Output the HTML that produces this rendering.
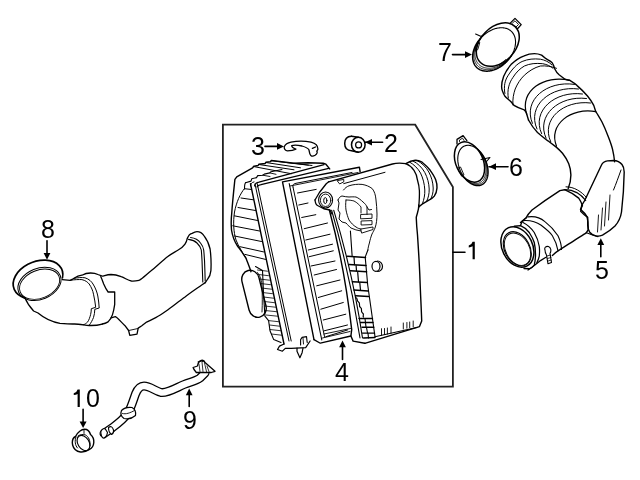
<!DOCTYPE html>
<html><head><meta charset="utf-8">
<style>
html,body{margin:0;padding:0;background:#fff;width:640px;height:480px;overflow:hidden}
.l{position:absolute;will-change:transform;font-family:"Liberation Sans",sans-serif;font-size:25px;line-height:25px;color:#000}
svg{position:absolute;left:0;top:0}
</style></head><body>
<svg width="640" height="480" viewBox="0 0 640 480">
<g fill="none" stroke="#000" stroke-linejoin="round" stroke-linecap="round">
<!-- frame box -->
<path d="M222.9,124.7 H415.2 L452.9,187 V386.6 H222.9 Z" stroke-width="1.8" stroke="#222" stroke-linejoin="miter"/>
<!-- tick for 1 -->
<path d="M452.9,252.3 H465" stroke-width="1.5"/>
<!-- arrows -->
<g stroke-width="1.6">
<path d="M265,146.4 H279"/>
<path d="M365,142.3 H382.6"/>
<path d="M452.5,54.6 H467"/>
<path d="M489,166.7 H508"/>
<path d="M600.8,243 V256.7"/>
<path d="M47,240.8 V254"/>
<path d="M189.2,393.8 V406.5"/>
<path d="M342.5,346 V359.4"/>
<path d="M83.1,409.4 V422"/>
</g>
</g>
<g fill="#000" stroke="none">
<path d="M284,146.4 L277,143 L277,149.8 Z"/>
<path d="M365,142.3 L372,139 L372,145.6 Z"/>
<path d="M472,54.6 L465,51.2 L465,58 Z"/>
<path d="M489,166.7 L496,163.3 L496,170.1 Z"/>
<path d="M600.8,238.3 L597.4,245 L604.2,245 Z"/>
<path d="M47,259.8 L43.6,253 L50.4,253 Z"/>
<path d="M189.2,388.6 L185.8,395.3 L192.6,395.3 Z"/>
<path d="M342.5,340.6 L339.1,347.3 L345.9,347.3 Z"/>
<path d="M83.1,428.1 L79.6,421.4 L86.6,421.4 Z"/>
<!-- digit 1 (label 1) -->
<path d="M472.6,241.7 H474.8 V259.2 H472.6 V246.3 Q471,247.2 468.75,247.4 V245.6 Q471.6,245 472.6,241.7 Z"/>
<!-- digit 1 (label 10) -->
<path d="M77.6,389.4 H79.8 V406.9 H77.6 V394 Q76,394.9 73.75,395.1 V393.3 Q76.6,392.7 77.6,389.4 Z"/>
</g>
<!-- PARTS -->
<g id="parts" fill="none" stroke="#000" stroke-width="1.3" stroke-linejoin="round" stroke-linecap="round">
<!-- part 3 clip -->
<path d="M284.2,146.7 C285.5,144 288,142.9 291,142.2 C297,141 305,141 311,142.2 C315,143.2 317.9,146 317.9,149.1 C317.9,150.2 316.8,150.8 316.8,151.2 C317.5,152 317.5,153.5 315.1,155.3 C313.5,156.3 312,156.6 310.8,155.5 C309.2,154 309.5,151.5 308.9,149.8 C308,148 305.5,147 302,146 C298,145.2 293.5,145 291.7,145.7 C291.5,147 293.5,148.2 295.9,149.1 C293.8,150.3 290.5,150.8 287.5,150.8 C285.5,150.6 284.2,149 284.2,146.7 Z"/>
<path d="M312.4,148.4 L315.5,147"/>
<!-- part 2 grommet -->
<path d="M351.5,136.3 C347,136.5 344.7,139.5 344.7,143.5 C344.7,147.5 347,150.5 351.5,150.7 L358.3,152.2" stroke-width="1.5"/>
<path d="M351.5,136.3 L358.3,137.2" stroke-width="1.5"/>
<ellipse cx="358.3" cy="144.7" rx="6.8" ry="7.5" stroke-width="1.5"/>
<circle cx="358.6" cy="144.9" r="3" stroke-width="1.2"/>
<!-- AIR BOX -->
<g>
<!-- lower housing outer contour -->
<path d="M251,271.7 C250,268.5 248,263.5 246.2,258.7 C243.5,254 240,249.5 237.5,246 C234.5,241.5 232.5,236.5 231.5,230 C231,224 231.2,218 231.75,213 C232.5,202 233.8,190 234.9,179.4 L236.75,176.9 L252.6,167.8 L253.8,166.25 L258.1,165.5 L258.8,164.3 L265.1,163.5 L265.9,162.3 L270.6,161.6 L271.3,160.4 L294,163.25 L308.1,162.8 L323.1,163.25 L325.9,164.2 L329.7,168.9" stroke-width="1.4"/>
<!-- top fins -->
<path d="M253.8,166.6 L291.3,173.7 M258.8,164.5 L294,169.8 M265.9,162.5 L300.5,167.8 M271.3,160.8 L308.4,165.2 M294,163.25 L312,165.5" stroke-width="1"/>
<path d="M245.6,182.7 L251,181.1 L251.8,178.75 L256.5,177.6 L257.7,175.6 L262.75,175.2 L264.3,174.1 L269.8,172.9 L271,171.7 L282,169.5" stroke-width="1.1"/>
<path d="M262.75,175.2 L270,176.5 M269.8,172.9 L276,174.3" stroke-width="0.9"/>
<!-- lower housing flange top edges -->
<path d="M254.5,186 C255,183.8 256.5,182.6 259,182.2 L324,164.65" stroke-width="1.2"/>
<path d="M257,187 C257.5,185.6 259,184.9 261,184.6 L328.7,168.4" stroke-width="1.2"/>
<path d="M244.5,189 C244.5,185.5 244.8,183.6 245.6,182.7" stroke-width="1.1"/>
<path d="M250.5,186 C250.5,184 251.5,182.5 254,181.9" stroke-width="1"/>
<!-- flange long lines -->
<path d="M250.5,183.75 L284,344" stroke-width="1.4"/>
<path d="M255,184 L289,341" stroke-width="1"/>
<path d="M257.2,183.6 L291.2,341" stroke-width="1"/>
<!-- rib panel inner contour -->
<path d="M244.5,188.5 C240,194 236.5,202 234.5,212 C233,222 233.5,232 236,240 C238.5,246 242,252 246,258" stroke-width="1"/>
<!-- ribs -->
<path d="M245,188.75 L251.5,189.5 M241,198 L253.3,199.8 M238,207.5 L255.5,210.5 M234.3,215.8 L257.5,220.5 M232.7,225.8 L259.5,231 M234.5,236 L261.5,241.5 M240,246.7 L263.6,251.9 M245,254.4 L265.5,259.4" stroke-width="1"/>
<!-- oval bulge -->
<rect x="-8.7" y="-24" width="17.4" height="48" rx="8.7" ry="9.5" transform="translate(254,293.8) rotate(-14)" stroke-width="1.4"/>
<path d="M257.5,272.5 C260.5,276 261.8,281 262,287 C262.3,295 262.5,303 262,312" stroke-width="0.9"/>
<!-- fin strip -->
<path d="M257.5,270 L267.5,271.2 M258.5,274.5 L268.5,275.7 M259.5,279 L269.5,280.2 M260.5,283.5 L270.5,284.7 M261.5,288 L271.5,289.2 M262.5,292.5 L272.5,293.7 M263.5,297 L273.5,298.2 M264.3,301.5 L274.5,302.7 M264.6,306 L275.5,307.2 M265,310.5 L276.5,311.7 M266,315 L277.5,316.2 M268.6,320.6 L278.5,321.7 M269.5,325 L279.5,326.2 M270,329.5 L280.5,330.7 M271.5,334 L281.5,335.2" stroke-width="0.8"/>
<path d="M255.5,266.5 L262.5,270.5 L263.5,292.9 L264.9,316.2 L268.6,320.6 L270,330.8 L273.7,339.6 L281,342.5" stroke-width="1.1"/>
<!-- feet of lower housing -->
<path d="M284,344 L279.5,346.1 L277.5,349.5 L282.4,351.2 L285.3,348.3 L291.2,348.3 L305.7,347.6 L310.1,341" stroke-width="1.2"/>
<path d="M297,348 L297,351.2 L299.9,357.8 L302.1,352.7 L303,348" stroke-width="1.2"/>
<path d="M300.6,345 L300.6,339.6 L302.1,337.4 L306.5,336.6 L307.2,342.5" stroke-width="1.1"/>
<path d="M303,338 L303.5,344" stroke-width="0.9"/>
<!-- FILTER (part 4) -->
<path d="M282.5,181.9 L357.5,167 L360.1,171.6 L329.4,210.2 Q344.45,266.05 351.7,329.7 L350.9,336 L320.3,343.2 L314,339.6 Z" fill="#fff" stroke="none"/>
<path d="M314,339.6 L282.5,181.9 L359.4,167.2 L360.1,171.6" stroke-width="1.4"/>
<path d="M289.2,183.5 L321.8,340" stroke-width="1.1"/>
<path d="M293,187 C292.5,185 293,184 296,183.3 L352,172.5" stroke-width="1"/>
<path d="M293,187 L324.5,336.5" stroke-width="1"/>
<path d="M290,186 L358,172.5" stroke-width="0.9"/>
<path d="M314,339.6 L320.3,343.2 L350.9,336" stroke-width="1.3"/>
<path d="M322.5,338 L350,331.5 M324,334 L350.5,328.5" stroke-width="0.9"/>
<!-- filter right edge lines -->
<path d="M329.4,210.2 Q344.45,266.05 351.7,329.7 L350.9,336 L353.1,341.1 L364.8,343.3" stroke-width="1.4"/>
<path d="M331.6,210.2 Q349.8,273.9 360,338" stroke-width="1.1"/>
<path d="M333.7,210.2 Q353.1,273.9 362.5,338" stroke-width="1.1"/>
<!-- pleat lines -->
<path d="M297.5,193.0 L316.2,189.4 M298.8,205.0 L308.0,203.0 M301.7,217.5 L315.8,214.7 M304.2,228.7 L327.5,223.0 M305.8,240.0 L330.0,234.2 M308.3,250.0 L332.5,244.2 M309.2,256.7 L333.3,250.8 M311.0,266.0 L335.0,261.0 M314.2,275.0 L336.5,269.5 M316.7,285.8 L340.0,280.0 M318.3,297.5 L341.7,290.8 M320.8,309.2 L343.3,302.5 M323.3,320.0 L345.8,314.2 M324.2,330.8 L347.5,325.0 M325.8,336.7 L347.5,330.0" stroke-width="1"/>
<!-- UPPER HOUSING -->
<path d="M328.7,181.8 L392.5,164 C396,163 400,162.8 405.8,163.6" stroke-width="1.3"/>
<path d="M343.75,183.6 L385,172.3" stroke-width="1"/>
<!-- snout -->
<path d="M405.8,163.6 C408.5,162 412,160.5 415.3,160.2 C417.5,160.2 420,161 422.1,162.2 C425,164.5 428,167.5 430.2,170.3 C432.5,173.5 434.5,176.5 435.7,179.8 C436.7,182.5 437.1,185 437,187.9 C436.8,191 435.8,194 434.3,196.1 C432.8,198 431,199.2 428.9,200.1 C426.5,201.5 424,203 422.1,204.2 L418.7,206.9" stroke-width="1.4"/>
<path d="M405.8,163.6 C409.5,165 412,167.5 414,170.3 C415.8,173 417,176.5 417.4,179.8 C418.5,183.5 419.2,187 419.4,190.7 C419.6,196 419.2,201.5 418.75,206.9" stroke-width="1.3"/>
<path d="M409.5,162 C414,164.5 418,168.5 420.5,173 C423,178 424.5,184 424.8,190 C425,195 424,199.5 422.5,203.5" stroke-width="1"/>
<path d="M413,161 C418,163.5 422,167.5 424.8,172.5 C427.5,177.5 429,183.5 429.2,189 C429.3,194 428.3,198 426.5,201.5" stroke-width="1"/>
<path d="M417,160.5 C422,163 426,167 428.8,172 C431.5,177 433,182.5 433.2,188 C433.3,192.5 432.3,196 430.5,199.5" stroke-width="1"/>
<path d="M418.75,205 C419,210 417,213.5 416.25,217.5 C416.5,225 417,230 417.5,235 C418.5,250 419.5,265 420,280 C420.5,295 421.3,308 421.7,321 L419.5,326.6 L364.8,343.3" stroke-width="1.4"/>
<!-- inner bottom line -->
<path d="M375,336.7 L416.7,327.5" stroke-width="1.1"/>
<path d="M381.5,328.7 L381.5,335.3 M384.5,328.5 L384.5,334.6 M387.4,328 L387.4,334 M391,327 L391,333.2 M403.3,323 L403.3,329 M406.9,322.5 L406.9,328.2 M409.7,322 L409.7,327.6 M413.2,321 L413.2,326.8" stroke-width="0.9"/>
<!-- body left edge / taper -->
<path d="M367.9,250 L365.2,257.1 L367.7,285 L375,336.7" stroke-width="1.1"/>
<path d="M350.4,231 L352.1,255.6" stroke-width="1.1"/>
<!-- ear of upper housing -->
<path d="M315,200 L319.4,192.5 L326.25,183.75 L328.7,181.8" stroke-width="1.3"/>
<path d="M315,200 C315.3,203 316.5,205 317.5,205.5 L323.75,208.75 L330,210 L332,214" stroke-width="1.3"/>
<ellipse cx="325.6" cy="200" rx="7" ry="8" stroke-width="1.1"/>
<ellipse cx="325.6" cy="200.3" rx="5.2" ry="6.2" stroke-width="0.9"/>
<ellipse cx="325.3" cy="200.6" rx="1.6" ry="3" stroke-width="1"/>
<path d="M337.5,180.6 L343.75,179.4 L343.75,181.9 L340,183.75 Z" stroke-width="0.9"/>
<!-- rib cells on flange -->
<path d="M347.5,256.25 L365.5,257.5 M349,264.6 L366,265.5 M350.5,270.8 L366.6,271.8 M352.5,281.8 L367.3,282.5 M354,290.1 L368,291 M355.5,295.8 L368.5,296.5" stroke-width="1.5"/>
<path d="M354,257 L354.5,264.6 M356.1,265.6 L356.5,270.8 M357.7,272.4 L358.5,281.8 M359.8,282.8 L360.5,290.1" stroke-width="1.2"/>
<path d="M359,318.5 L372.5,318.5 M360.5,322.5 L373,322.5 M362,327.3 L373.8,327.3 M362.5,333.1 L374.5,333.1 M363.5,338 L375,337.5" stroke-width="1.4"/>
<path d="M365,318.5 L366,327 M366.5,327.5 L367.5,333 M368,333.3 L368.5,338" stroke-width="1.1"/>
<path d="M355.5,297.5 C358.5,298 356,300.5 358.5,302 C361,303.5 358,306 360.5,307.5 C363,309 360,311.5 362.5,313 C365,314.5 362,316 363.5,317" stroke-width="1.2"/>
<!-- MAF port -->
<path d="M343.5,190 C345,188 347,186.5 349,185.8 C353,184.5 357.5,184 362.1,184.4 C366,185 369.5,186.5 372.3,188.7 C374.5,191.5 375.5,195 375.9,199 C376.5,204 376.9,209 377,214 C377,219 376.5,224 375,228 C374,230.5 373,232 372,234 C371,236.5 370,240 369.4,243 C368.5,246 368,248 367.9,250" stroke-width="0.95"/>
<path d="M338,200 C339,197.5 340.5,196.3 342,196 C344.5,196.5 347,197 349,197 C352,196.8 354,196.8 356,197 C358.5,198 361,200 363,202 C365,203.5 366.5,205.5 367,207 L369,210 L371.5,209.5" stroke-width="0.95"/>
<path d="M338,200 L339,203 L338,210 L340,213 L339,219 L342,222 L346,223 C348,225 349.5,227 351,228 C354,229.5 357.5,230.5 361,231" stroke-width="0.95"/>
<path d="M346,200 C345.5,204 345.6,207 346,210 C346.8,214 347.8,217 349,220 C351,223 353.5,225.5 356,227 C358,228.3 359.5,229 361,229" stroke-width="0.95"/>
<path d="M346,200 C349,200 351.5,200.3 354,201 C357,202.5 359.5,205 361,207 L361,213" stroke-width="0.9"/>
<path d="M361,214.5 L372,214 L372,218.3 L361,218.8 Z M361.5,221 L372,220.6 L372,224.6 L361.5,225 Z" stroke-width="0.9"/>
<path d="M367,207 L367,214.5" stroke-width="0.9"/>
<path d="M361,229 L373,227 L373,229.5 L362,233 Z" stroke-width="0.9"/>
<path d="M377.5,261 C380,261 382.5,263.5 382.5,266.5 C382.5,269.5 380,271.5 377.5,271.5" stroke-width="1.2"/><ellipse cx="376" cy="266.3" rx="4" ry="5" stroke-width="1.2"/>

</g>
<!-- part 10 clamp -->
<g>
<path d="M72.3,442.7 C72.3,439.5 73.5,437.5 75.5,436.5 C76.5,434.5 78,432.5 80,431 C81.5,429.8 83,429.3 84.5,429.3 C87,429.3 89.5,431 90.5,434.5 C93,436.5 94,439.5 93.8,442.5 C93.5,446 92,448.2 89.5,449.5 C86.5,451.5 83.5,452.3 80.5,452 C76.5,451.5 73.5,448.5 72.6,445 Z" stroke-width="1.4"/>
<ellipse cx="0" cy="0" rx="8.2" ry="5.6" transform="translate(83.5,443) rotate(58)" stroke-width="1.2"/>
<path d="M76,437 C74.5,440.5 75,445.5 77.5,448" stroke-width="1"/>
<path d="M78,436 C80,434.5 83,434 85.5,435 C88.5,436.5 90.5,440.5 90,446" stroke-width="1"/>
<path d="M84,430 L84,433.5" stroke-width="0.9"/>
</g>
<!-- part 9 hose -->
<g>
<path d="M104,433.5 L112,428 C118,423.5 124,419 128,413 C131,408 133,401 135.5,394 C137.5,389 140,386 144,386 C150,386 155,391 161,392.5 C167,393.5 176,388 184,384.5 C190,382 196,381 200,378 L205,373" stroke-width="9" stroke="#000"/>
<path d="M104,433.5 L112,428 C118,423.5 124,419 128,413 C131,408 133,401 135.5,394 C137.5,389 140,386 144,386 C150,386 155,391 161,392.5 C167,393.5 176,388 184,384.5 C190,382 196,381 200,378 L205,373" stroke-width="6.4" stroke="#fff"/>
<path d="M100.8,433 C100.5,430.5 102.5,428.5 105,428.5 L107.5,432.5 C107,436 105,438.5 103,438 C101.5,437 101,435 100.8,433 Z" fill="#fff" stroke-width="1.2"/>
<path d="M108.5,427.5 C111,425.5 112.5,427 113.5,430 C114,432.5 113.5,433.5 111.5,434.5 C109.5,433 108.5,430 108.5,427.5 Z" fill="#fff" stroke-width="1.1"/>
<path d="M121.5,410.5 C124,408 128,407 132,407.5 C135,409 136,412 135.5,415.5 C132,418.5 127.5,419.5 124,418.5 C121,416.5 120.5,413 121.5,410.5 Z" fill="#fff" stroke-width="1.2"/>
<path d="M122.5,413.5 C126,414.5 130,413 134.5,410.5" stroke-width="0.9"/>
<path d="M193.1,367.5 L197.5,366 C198,363 199.5,361 201.3,360.4 C203,360 204.5,361 205,362.5 L215,371.3 L211.3,372.5 L196.3,372.5 C195,371 193.5,369 193.1,367.5 Z" fill="#fff" stroke-width="1.3"/>
<path d="M199,364 L200,371.5 M202,362 L203,371.5 M204.5,363 L206.5,371.5 M207,366 L209,371.5" stroke-width="0.8"/>
<path d="M198,361.8 C200,361 203,361 204.8,362" stroke-width="1"/>
</g>
<!-- part 8 duct -->
<g>
<path d="M62.2,279.6 L70.2,280.3 L73.1,278.8 C76,277 79,275.5 81.9,275.2 C85,273.5 88,273 90.6,273 C93.5,273 96,273.5 97.9,274.5 L102.3,276.2 C105,275.5 108,274.5 111,274.5 C115,274.6 118,275.5 121.2,276.7 C125,278 128,280.5 131.4,281 C135,281.3 138,280.5 139.4,280.2 C143,278 147,274 151.4,270.6 C157,266 163,260 168.2,256.2 C172,253.5 175,252 177.8,250.2 C181,248.5 183.5,246.5 185,244.2 C186.5,242 187,240 187.4,238.2"/>
<path d="M187.4,238.2 C188.5,235.5 190,233.8 192.1,233.4 C194,232.3 195.5,231.7 197,231.7 C200,231.7 202.5,233.5 204.1,235.8 C207,239.5 209,244 210.1,249 C211,256 211.3,264 210.9,270.6 C210.5,274.5 209,277.5 207.7,279 L205.3,282.6"/>
<path d="M188.5,239.4 C192,239.8 195,241 197,243 C199.5,245.5 201,248 201.3,250 C201.8,256 202.2,262 202.3,268 L202.8,282" stroke-width="1.1"/>
<path d="M190.5,237.5 C195,238 198.5,240 200.5,243 C202.5,245.5 203.5,248 203.7,250 C204.3,256 204.7,262 204.8,268 L205.2,281" stroke-width="1.1"/>
<path d="M205.3,282.6 L201.7,285 C196,289 190,293 185,297 C178,302 172,307 165.8,311.3 C162,314 159,316 156.2,317.3 C152,319.5 149,321 146.6,322.1 L141.8,325.7 L138.2,328.1 L137,334.1 L129.8,335.3 L128.6,330.5 L125,325.7 C121,322 118,318 115.4,316.7 L111,317.8"/>
<path d="M102.3,324 C96,325.8 93,325.5 89.2,325.5 C84,325 79,324 74.6,324 C70,324 64,323.5 60,323.3 C52,322 44,318 38,313 L33.6,311 C30,307 27,303 24.9,297.7"/>
<path d="M128.8,330.5 L138,328.5" stroke-width="0.9"/>
<path d="M70.2,280.3 C75,279.5 79,279.5 81.9,279.6 C85.5,280.5 87.5,282 89.2,284 C91.5,287.5 92.8,290.5 93.5,294.2 C94.5,299 95.3,303 95.7,307.3 L91.3,308.7 C91.3,311 91,313 90.6,314.6 C89.8,317.5 89,320 87.7,321.9 C86,323.5 85,324.3 83.3,324.8" stroke-width="1"/>
<path d="M73.5,278.5 C78,277.5 82,277.3 85,277.8 C89,279 91.5,281.5 93,284 C95.5,288 97,292 97.8,296 C98.5,300 99,304 99.2,308 L94.8,309.3 C94.8,312 94.3,315 93.5,317.5 C92.5,320 91,323 89.2,325.3" stroke-width="1"/>
<path d="M100.8,276.7 C102,279 102.8,281.5 103.7,284 C105,287 106.5,290 108.1,292 L114.7,292 L114.7,304.4 C114.2,308 113.5,311.5 112.5,314.6 C111.5,317.5 110,320 108.1,321.9 C106,323.2 104,323.8 102.3,324" />
<path d="M24.9,297.7 A25.8,17.9 -22 1 1 62.46,277.9" stroke-width="1.7"/>
<ellipse cx="0" cy="0" rx="22.4" ry="15.5" transform="translate(39.45,283.85) rotate(-22)" stroke-width="1"/>
<ellipse cx="0" cy="0" rx="20.9" ry="14" transform="translate(39.6,284.2) rotate(-22)" stroke-width="0.9"/>
</g>
<!-- part 5 duct -->
<g>
<!-- cuff outer -->
<path d="M528.5,120 L526.3,112.7 C525.5,111 524.5,110 524.2,109.8 C520,108.5 516.5,107 514,105.4 L511,101.7 C508.5,99.5 506.5,98 505.2,96.6 C503,93 501.6,89.5 501.6,86.4 C501.6,83 502.5,79.5 503.7,76.2 C505.5,72 508,68 511,64.6 C515,60.5 519.5,57.5 524.2,55.8 C527.5,54.3 531,53.6 534.4,53.6 C537,53.6 539.5,54.2 541.6,55.1 L546,58.7 C548,59.8 550.5,61 551.9,62.4 C553.5,64.5 554.2,67 554.8,69 C556,71.5 557.5,73.5 559.1,74.8 L565,79.2 C566.5,79.7 568,80 569.8,80.4" stroke-width="1.4"/>
<path d="M504.9,93.5 C503.5,86 505,80 508.3,75.2 C512,69.5 516.5,64 522.1,61.5 C528,59 534,58.5 540.4,59.2 C545,60 549,62 551.9,64.9" stroke-width="1"/>
<path d="M508.3,98.1 C507,90 509,83 512.9,77.5 C516,72.5 520,68.5 524.4,66 C530,63.5 536,63 542.7,63.7 C547,64.5 550.5,66 553,68.3" stroke-width="1"/>
<path d="M512.9,105 C512.5,99 513.5,94 515.2,89 C517.5,83.5 520.5,79 524.4,75.2 C529,71 534.5,67.5 540.4,66 C546,65.5 551.5,66.5 556.5,68.3" stroke-width="1"/>
<path d="M526.7,114.2 C519.0,91.0 544.1,74.2 569.8,80.4" stroke-width="1.2"/>
<path d="M532.4,123.3 C522.4,99.8 547.2,80.2 574.5,84.4" stroke-width="1.0"/>
<path d="M537.0,129.0 C526.4,105.6 550.9,85.3 578.5,89.0" stroke-width="1.0"/>
<path d="M541.6,133.6 C531.1,110.5 555.3,90.4 582.5,94.0" stroke-width="1.0"/>
<path d="M546.1,138.2 C535.5,115.3 559.4,95.1 586.5,98.5" stroke-width="1.0"/>
<path d="M550.7,141.7 C540.4,119.2 563.9,99.6 590.5,103.0" stroke-width="1.0"/>
<path d="M556.5,146.2 C547.9,124.5 571.0,107.2 595.8,111.7" stroke-width="1.2"/>
<!-- upper right contour -->
<path d="M569.8,80.4 C572.5,82 575,83.5 577.1,85.6 C580.5,88.5 584,92 587.5,96 C590,99 592,102 593.75,105.4 L595.8,111.7 C598,115 600,118.5 602,122 C604.5,127 606.5,132 608.3,136.7 C610,141 611.5,145 612.5,149.2 C613.5,153.5 614.2,157.5 614.6,161.7" stroke-width="1.4"/>
<!-- lower left contour -->
<path d="M528.5,120 C531,124.5 534,129 537.5,132.5 C541,135.5 544.5,138.5 547.9,140.8 L556.25,147.1 C558.5,149 560.5,151 562.5,153.3 C565,156.5 567.3,160 568.75,163.75 C570.2,167.5 570.9,171 570.9,175 C570.9,180 570,184 568.2,188.6" stroke-width="1.4"/>
<!-- resonator box -->
<path d="M584.7,200.5 L601.5,165 C602.5,162.8 604.5,161.3 607.5,160.9 L613.5,160.5 C617,160.6 620,162 622,164.5 C623.6,166.5 624.2,169 624.2,172 C624,185 623,199 621.5,212 C620.7,217.5 618.5,222 615,226 C611.5,229.5 607,232.5 602.5,235.1 C600.5,236 598.5,236.3 596.6,236.1 C593.5,235.5 591,234 589.7,232.2 C588.5,230 587.8,227.5 587.7,225.2 C587.7,222.5 587.7,219.5 587.7,217.3 C585,215.5 582.5,213.5 580.7,211.4 L581.7,205.4 L584.7,200.5" stroke-width="1.4"/>
<path d="M621,170 C618.5,177 616,184 613.5,190" stroke-width="1"/>
<path d="M598.5,215 L597.5,232 M602.5,208 L601,230 M606,202 L604.5,226 M610,195 L608.5,220" stroke-width="0.9"/>
<path d="M564.9,189.6 C569,189.5 573,190.5 576.8,192.6 C580,194.5 583,197 585.7,200.5" stroke-width="1.2"/>
<path d="M566,186.8 C570,186.8 574,188 577.5,190 C581,192 584,194.5 586.5,197.5" stroke-width="1"/>
<!-- main cylinder -->
<path d="M564.6,189.7 L559.9,190.6 C550,197 540,204 532,210 C529.5,212.5 527.5,215 526.1,217.8 L520.5,222.5" stroke-width="1.4"/>
<path d="M564.6,189.7 C570,192 575,195 578.7,198.1 C580.5,200.5 581.5,203 582.4,205.6 L580.5,209.4 C583,211.5 585.5,214 587.1,216.9 C588,221 588.3,226 588.1,230 L586.2,232.8 C583,235 578,238 573,241.3 C568,244.5 564,247 559.9,249.7 C557,251.5 554.5,253.5 552.4,255.4" stroke-width="1.4"/>
<path d="M586.2,232.8 C590,234 594,235.5 598,236.6" stroke-width="1.2"/>
<!-- coupling band -->
<path d="M522.4,220.6 C529,220 536,221.5 541.2,225.3 C546,229 550,232 552.4,235.7 C555,240 557,245 558,250.7" stroke-width="1.1"/>
<path d="M528,216.9 C534,216 540,217.5 544.9,221.6 C550,225.5 554,229.5 558,235.7 C560,240 561.5,245 561.5,249.5" stroke-width="1.1"/>
<!-- inlet lip -->
<ellipse cx="0" cy="0" rx="21.2" ry="15.2" transform="translate(517.4,247) rotate(64)" stroke-width="1.5"/>
<ellipse cx="0" cy="0" rx="18.2" ry="12.6" transform="translate(517.3,248.8) rotate(62)" stroke-width="1.1"/>
<ellipse cx="0" cy="0" rx="17.2" ry="11.8" transform="translate(517.5,249.2) rotate(62)" stroke-width="0.9"/>
<path d="M514.25,226.25 L520.5,225.6 C524,227 527,229.5 529.25,232.5 C531.5,236 533.2,239 534.25,242.5 C535.3,247 535.6,251.5 535.5,256.25 C535.3,259.5 535,262.5 534.25,265 C533,266.8 531.5,268 529.25,268.75 L524,268.5" stroke-width="1.3"/>
<path d="M520.5,225.6 L521.75,222.5 C523,220.5 524.5,219 526.75,217.5" stroke-width="1.3"/>
<path d="M523,222.5 C528,225 531.5,228.5 534.25,232.5 C536.5,236.5 538.5,241 539.25,246.25 C539.7,249.5 539.6,253 539.25,256.25 C538.7,258.5 537.8,261 536.75,263" stroke-width="1.2"/>
<path d="M528,270 C532,267.5 536,264 540.5,260.6 L545.5,257.5 C547.5,256.5 549,256 550.5,255.5" stroke-width="1.3"/>
<!-- clamp screw -->
<path d="M545,250 C544,247.5 546,246 548.5,246.5 C551,247.5 551.5,251 550,253.5 L551.5,262.5 L548,263.8 L546.5,255 C545.5,253.5 545,252 545,250 Z" fill="#fff" stroke-width="1.1"/>
<path d="M547,256 L550.5,255 M547.5,258.5 L551,257.5 M548,261 L551.3,260" stroke-width="0.8"/>
</g>
<!-- part 7 clamp -->
<g>
<ellipse cx="0" cy="0" rx="25.00" ry="17.50" transform="translate(497.80,44.60) rotate(-46.0)" stroke-width="1.50"/>
<path d="M510.99,56.18 L510.52,56.89 L510.02,57.60 L509.51,58.30 L508.98,58.99 L508.43,59.66 L507.87,60.32 L507.29,60.97 L506.69,61.61 L506.07,62.23 L505.45,62.83 L504.80,63.42 L504.15,63.99 L503.48,64.54 L502.80,65.08 L502.11,65.60 L501.41,66.09 L500.71,66.57 L499.99,67.02 L499.27,67.46 L498.54,67.87 L497.80,68.26 L497.06,68.63 L496.32,68.97 L495.57,69.29 L494.83,69.58 L494.08,69.86 L493.33,70.10 L492.58,70.32 L491.83,70.52 L491.09,70.69 L490.35,70.83 L489.62,70.95 L488.89,71.04 L488.17,71.11 L487.45,71.14 L486.74,71.16 L486.04,71.14 L485.35,71.10 L484.68,71.04 L484.01,70.94 L483.36,70.82 L482.71,70.68 L482.09,70.51 L481.47,70.31 L480.88,70.09 L480.29,69.84 L479.73,69.57 L479.18,69.27 L478.65,68.95 L478.14,68.61 L477.65,68.24 L477.18,67.85 L476.73,67.43 L476.30,67.00 L475.90,66.54 L475.51,66.06 L475.15,65.57 L474.81,65.05 L474.50,64.51 L474.20,63.96 L473.94,63.39 L473.69,62.80 L473.48,62.19 L473.28,61.57 L473.11,60.93 L472.97,60.28 L472.86,59.62 L472.77,58.95 L472.70,58.26 L472.66,57.56 L472.65,56.85 L472.66,56.14 L472.70,55.41 L472.77,54.68 L472.86,53.94 L472.98,53.20 L473.12,52.45 L473.29,51.70 L473.49,50.94 L473.71,50.19 L473.95,49.43 L474.22,48.67 L474.51,47.91 L474.83,47.16 L475.17,46.41 L475.54,45.66 L475.92,44.92 L476.33,44.18 L476.76,43.45 L477.21,42.72 L477.68,42.01 L478.18,41.30 L478.69,40.60 L479.22,39.91 L479.77,39.24 L480.33,38.58 M510.99,56.18" stroke-width="1.50"/>
<path d="M480.91,37.93 L481.51,37.29 L482.13,36.67 L482.75,36.07 L483.40,35.48 L484.05,34.91 L484.72,34.36 L485.40,33.82 L486.09,33.30 L486.79,32.81 L487.49,32.33 L488.21,31.88 L488.93,31.44 L489.66,31.03 L490.40,30.64 L491.14,30.27 L491.88,29.93 L492.63,29.61 L493.37,29.32 L494.12,29.04 L494.87,28.80 L495.62,28.58 L496.37,28.38 L497.11,28.21 L497.85,28.07 L498.58,27.95 L499.31,27.86 L500.03,27.79 L500.75,27.76 L501.46,27.74 L502.16,27.76 L502.85,27.80 L503.52,27.86 L504.19,27.96 L504.84,28.08 L505.49,28.22 L506.11,28.39 L506.73,28.59 L507.32,28.81 L507.91,29.06 L508.47,29.33 L509.02,29.63 L509.55,29.95 L510.06,30.29 L510.55,30.66 L511.02,31.05 L511.47,31.47 L511.90,31.90 L512.30,32.36 L512.69,32.84 L513.05,33.33 L513.39,33.85 L513.70,34.39 L514.00,34.94 L514.26,35.51 L514.51,36.10 L514.72,36.71 L514.92,37.33 L515.09,37.97 L515.23,38.62 L515.34,39.28 L515.43,39.95 L515.50,40.64 L515.54,41.34 L515.55,42.05 L515.54,42.76 L515.50,43.49 L515.43,44.22 L515.34,44.96 L515.22,45.70 L515.08,46.45 L514.91,47.20 L514.71,47.96 L514.49,48.71 L514.25,49.47 L513.98,50.23 L513.69,50.99 L513.37,51.74 L513.03,52.49 L512.66,53.24 L512.28,53.98 L511.87,54.72 L511.44,55.45" stroke-width="1.1"/>
<path d="M512.24,54.69 L511.73,55.39 L511.20,56.08 L510.65,56.75 L510.09,57.41 L509.51,58.06 L508.91,58.70 L508.29,59.32 L507.67,59.92 L507.02,60.51 L506.37,61.08 L505.70,61.63 L505.02,62.17 L504.33,62.69 L503.63,63.18 L502.93,63.66 L502.21,64.11 L501.49,64.55 L500.76,64.96 L500.02,65.35 L499.28,65.72 L498.54,66.06 L497.79,66.38 L497.05,66.67 L496.30,66.95 L495.55,67.19 L494.80,67.41 L494.05,67.61 L493.31,67.78 L492.57,67.92 L491.84,68.04 L491.11,68.13 L490.39,68.20 L489.67,68.23 L488.96,68.25 L488.26,68.23 L487.57,68.19 L486.90,68.13 L486.23,68.03 L485.58,67.91 L484.93,67.77 L484.31,67.60 L483.69,67.40 L483.10,67.18 L482.51,66.93 L481.95,66.66 L481.40,66.36 L480.87,66.04 L480.36,65.70 L479.87,65.33 L479.40,64.94 L478.95,64.52 L478.52,64.09 L478.12,63.63 L477.73,63.15 L477.37,62.66 L477.03,62.14 L476.72,61.60 L476.42,61.05 L476.16,60.48 L475.91,59.89 L475.70,59.28 L475.50,58.66 L475.33,58.02 L475.19,57.37 L475.08,56.71 L474.99,56.04 L474.92,55.35 L474.88,54.65 L474.87,53.94 L474.88,53.23 L474.92,52.50 L474.99,51.77 L475.08,51.03 L475.20,50.29 L475.34,49.54 L475.51,48.79 L475.71,48.03 L475.93,47.28 L476.17,46.52 L476.44,45.76 L476.73,45.00 L477.05,44.25 L477.39,43.50 L477.76,42.75 L478.14,42.01 L478.55,41.27 L478.98,40.54 L479.43,39.81 L479.90,39.10 L480.40,38.39 L480.91,37.69 L481.44,37.00 M512.24,54.69" stroke-width="0.9"/>
<path d="M511.63,55.44 L511.13,56.15 L510.62,56.84 L510.09,57.53 L509.54,58.21 L508.98,58.87 L508.40,59.52 L507.80,60.15 L507.18,60.77 L506.56,61.38 L505.91,61.96 L505.26,62.54 L504.59,63.09 L503.91,63.62 L503.22,64.14 L502.52,64.64 L501.82,65.11 L501.10,65.57 L500.38,66.00 L499.65,66.42 L498.91,66.80 L498.17,67.17 L497.43,67.51 L496.68,67.83 L495.94,68.13 L495.19,68.40 L494.44,68.65 L493.69,68.87 L492.94,69.06 L492.20,69.23 L491.46,69.38 L490.73,69.49 L490.00,69.59 L489.28,69.65 L488.56,69.69 L487.85,69.70 L487.15,69.69 L486.46,69.65 L485.79,69.58 L485.12,69.49 L484.47,69.37 L483.82,69.22 L483.20,69.05 L482.58,68.85 L481.99,68.63 L481.40,68.39 L480.84,68.11 L480.29,67.82 L479.76,67.50 L479.25,67.15 L478.76,66.78 L478.29,66.39 L477.84,65.98 L477.41,65.54 L477.01,65.09 L476.62,64.61 L476.26,64.11 L475.92,63.59 L475.61,63.06 L475.31,62.50 L475.05,61.93 L474.80,61.34 L474.59,60.74 L474.39,60.12 L474.22,59.48 L474.08,58.83 L473.97,58.17 L473.88,57.49 L473.81,56.80 L473.77,56.11 L473.76,55.40 L473.77,54.68 L473.81,53.96 L473.88,53.23 L473.97,52.49 L474.09,51.74 L474.23,50.99 L474.40,50.24 L474.60,49.49 L474.82,48.73 L475.06,47.97 L475.33,47.22 L475.62,46.46 L475.94,45.70 L476.28,44.95 L476.65,44.20 L477.03,43.46 L477.44,42.72 L477.87,41.99 L478.32,41.27 L478.79,40.55 L479.29,39.84 L479.80,39.15 L480.33,38.46 L480.88,37.78 M511.63,55.44" stroke-width="0.9"/>
<path d="M510,23.4 L515,18.4 L521.2,24.6 L517.5,28.8" stroke-width="1.3"/>
<path d="M512.5,23 L515,20.8 L518.5,24.5 L516,27" stroke-width="0.9"/>
<path d="M475.6,34 L481.25,36.5 L485,33.5" stroke-width="1.1"/>
<path d="M477,44 L479.8,42.5 L477.8,49.5 L475.5,51 Z" stroke-width="0.9"/>
<path d="M499.5,64.5 L506,59.5 L507,61 L500.5,66 Z" stroke-width="0.9"/>
</g>
<!-- part 6 clamp -->
<g>
<ellipse cx="0" cy="0" rx="21.20" ry="13.60" transform="translate(469.50,162.05) rotate(66.0)" stroke-width="1.50"/>
<path d="M477.88,149.59 L478.38,150.03 L478.87,150.50 L479.35,150.98 L479.82,151.47 L480.29,151.99 L480.74,152.52 L481.19,153.07 L481.63,153.63 L482.05,154.20 L482.47,154.79 L482.87,155.40 L483.26,156.01 L483.64,156.64 L484.00,157.28 L484.35,157.92 L484.69,158.58 L485.02,159.25 L485.32,159.92 L485.62,160.60 L485.90,161.28 L486.16,161.97 L486.40,162.67 L486.63,163.37 L486.85,164.07 L487.04,164.77 L487.22,165.47 L487.38,166.17 L487.52,166.88 L487.65,167.58 L487.76,168.27 L487.85,168.97 L487.92,169.66 L487.97,170.34 L488.01,171.02 L488.02,171.69 L488.02,172.36 L488.00,173.01 L487.96,173.66 L487.90,174.30 L487.83,174.92 L487.73,175.54 L487.62,176.14 L487.49,176.73 L487.34,177.31 L487.18,177.87 L487.00,178.41 L486.80,178.94 L486.58,179.46 L486.35,179.95 L486.10,180.43 L485.83,180.89 L485.55,181.33 L485.25,181.76 L484.94,182.16 L484.61,182.54 L484.27,182.90 L483.92,183.24 L483.55,183.56 L483.17,183.86 L482.77,184.13 L482.37,184.38 L481.95,184.61 L481.52,184.82 L481.08,185.00 L480.64,185.16 L480.18,185.29 L479.71,185.40 L479.23,185.48 L478.75,185.54 L478.26,185.58 L477.76,185.59 L477.26,185.58 L476.75,185.54 L476.24,185.48 L475.72,185.39 L475.20,185.28 L474.68,185.15 L474.16,184.99 L473.63,184.81 L473.10,184.60 L472.57,184.37 L472.05,184.12 L471.52,183.84 L470.99,183.54 L470.47,183.22 L469.95,182.88 L469.44,182.52 L468.93,182.14 L468.42,181.73 L467.92,181.31 L467.42,180.87 L466.93,180.40 L466.45,179.92 L465.98,179.43 L465.51,178.91 L465.06,178.38 M477.88,149.59" stroke-width="1.50"/>
<path d="M464.61,177.83 L464.17,177.27 L463.75,176.70 L463.33,176.11 L462.93,175.50 L462.54,174.89 L462.16,174.26 L461.80,173.62 L461.45,172.98 L461.11,172.32 L460.78,171.65 L460.48,170.98 L460.18,170.30 L459.90,169.62 L459.64,168.93 L459.40,168.23 L459.17,167.53 L458.95,166.83 L458.76,166.13 L458.58,165.43 L458.42,164.73 L458.28,164.02 L458.15,163.32 L458.04,162.63 L457.95,161.93 L457.88,161.24 L457.83,160.56 L457.79,159.88 L457.78,159.21 L457.78,158.54 L457.80,157.89 L457.84,157.24 L457.90,156.60 L457.97,155.98 L458.07,155.36 L458.18,154.76 L458.31,154.17 L458.46,153.59 L458.62,153.03 L458.80,152.49 L459.00,151.96 L459.22,151.44 L459.45,150.95 L459.70,150.47 L459.97,150.01 L460.25,149.57 L460.55,149.14 L460.86,148.74 L461.19,148.36 L461.53,148.00 L461.88,147.66 L462.25,147.34 L462.63,147.04 L463.03,146.77 L463.43,146.52 L463.85,146.29 L464.28,146.08 L464.72,145.90 L465.16,145.74 L465.62,145.61 L466.09,145.50 L466.57,145.42 L467.05,145.36 L467.54,145.32 L468.04,145.31 L468.54,145.32 L469.05,145.36 L469.56,145.42 L470.08,145.51 L470.60,145.62 L471.12,145.75 L471.64,145.91 L472.17,146.09 L472.70,146.30 L473.23,146.53 L473.75,146.78 L474.28,147.06 L474.81,147.36 L475.33,147.68 L475.85,148.02 L476.36,148.38 L476.87,148.76 L477.38,149.17" stroke-width="1.1"/>
<path d="M476.83,148.46 L477.31,148.94 L477.78,149.43 L478.25,149.95 L478.70,150.48 L479.15,151.03 L479.59,151.59 L480.01,152.16 L480.43,152.75 L480.83,153.36 L481.22,153.97 L481.60,154.60 L481.96,155.24 L482.31,155.88 L482.65,156.54 L482.98,157.21 L483.28,157.88 L483.58,158.56 L483.86,159.24 L484.12,159.93 L484.36,160.63 L484.59,161.33 L484.81,162.03 L485.00,162.73 L485.18,163.43 L485.34,164.13 L485.48,164.84 L485.61,165.54 L485.72,166.23 L485.81,166.93 L485.88,167.62 L485.93,168.30 L485.97,168.98 L485.98,169.65 L485.98,170.32 L485.96,170.97 L485.92,171.62 L485.86,172.26 L485.79,172.88 L485.69,173.50 L485.58,174.10 L485.45,174.69 L485.30,175.27 L485.14,175.83 L484.96,176.37 L484.76,176.90 L484.54,177.42 L484.31,177.91 L484.06,178.39 L483.79,178.85 L483.51,179.29 L483.21,179.72 L482.90,180.12 L482.57,180.50 L482.23,180.86 L481.88,181.20 L481.51,181.52 L481.13,181.82 L480.73,182.09 L480.33,182.34 L479.91,182.57 L479.48,182.78 L479.04,182.96 L478.60,183.12 L478.14,183.25 L477.67,183.36 L477.19,183.44 L476.71,183.50 L476.22,183.54 L475.72,183.55 L475.22,183.54 L474.71,183.50 L474.20,183.44 L473.68,183.35 L473.16,183.24 L472.64,183.11 L472.12,182.95 L471.59,182.77 L471.06,182.56 L470.53,182.33 L470.01,182.08 L469.48,181.80 L468.95,181.50 L468.43,181.18 L467.91,180.84 L467.40,180.48 L466.89,180.10 L466.38,179.69 L465.88,179.27 L465.38,178.83 L464.89,178.36 L464.41,177.88 M476.83,148.46" stroke-width="0.9"/>
<path d="M477.36,149.01 L477.85,149.48 L478.33,149.96 L478.80,150.45 L479.27,150.97 L479.72,151.50 L480.17,152.05 L480.61,152.61 L481.03,153.18 L481.45,153.77 L481.85,154.38 L482.24,154.99 L482.62,155.62 L482.98,156.26 L483.33,156.90 L483.67,157.56 L484.00,158.23 L484.30,158.90 L484.60,159.58 L484.88,160.26 L485.14,160.95 L485.38,161.65 L485.61,162.35 L485.83,163.05 L486.02,163.75 L486.20,164.45 L486.36,165.15 L486.50,165.86 L486.63,166.56 L486.74,167.25 L486.83,167.95 L486.90,168.64 L486.95,169.32 L486.99,170.00 L487.00,170.67 L487.00,171.34 L486.98,171.99 L486.94,172.64 L486.88,173.28 L486.81,173.90 L486.71,174.52 L486.60,175.12 L486.47,175.71 L486.32,176.29 L486.16,176.85 L485.98,177.39 L485.78,177.92 L485.56,178.44 L485.33,178.93 L485.08,179.41 L484.81,179.87 L484.53,180.31 L484.23,180.74 L483.92,181.14 L483.59,181.52 L483.25,181.88 L482.90,182.22 L482.53,182.54 L482.15,182.84 L481.75,183.11 L481.35,183.36 L480.93,183.59 L480.50,183.80 L480.06,183.98 L479.62,184.14 L479.16,184.27 L478.69,184.38 L478.21,184.46 L477.73,184.52 L477.24,184.56 L476.74,184.57 L476.24,184.56 L475.73,184.52 L475.22,184.46 L474.70,184.37 L474.18,184.26 L473.66,184.13 L473.14,183.97 L472.61,183.79 L472.08,183.58 L471.55,183.35 L471.03,183.10 L470.50,182.82 L469.97,182.52 L469.45,182.20 L468.93,181.86 L468.42,181.50 L467.91,181.12 L467.40,180.71 L466.90,180.29 L466.40,179.85 L465.91,179.38 L465.43,178.90 L464.96,178.41 L464.49,177.89 M477.36,149.01" stroke-width="0.9"/>
<path d="M457,144 L457,139.4 L463.1,135.6 L466.9,140.6" stroke-width="1.3"/>
<path d="M459.5,141.5 L459.5,140 L462.5,138.2 L464,140.5" stroke-width="0.9"/>
<path d="M481,159.5 L490,157.5 L486.5,161.5" stroke-width="1.1"/>
<path d="M458,168 L460.5,167 L464,175 L462,176 Z" stroke-width="0.9"/>
</g>
</g>
</svg>
<div class="l" style="left:251px;top:134.4px">3</div>
<div class="l" style="left:383.8px;top:130.9px">2</div>
<div class="l" style="left:438.2px;top:40.4px">7</div>
<div class="l" style="left:509.3px;top:154.5px">6</div>
<div class="l" style="left:594.8px;top:257.8px">5</div>
<div class="l" style="left:41.2px;top:217.4px">8</div>
<div class="l" style="left:182.5px;top:407.7px">9</div>
<div class="l" style="left:334.6px;top:360.1px">4</div>
<div class="l" style="left:86px;top:386.4px">0</div>
</body></html>
